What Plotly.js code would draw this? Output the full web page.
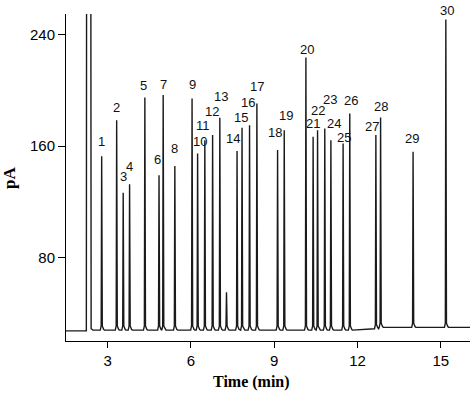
<!DOCTYPE html>
<html>
<head>
<meta charset="utf-8">
<script src="https://cdn.plot.ly/plotly-3.0.1.min.js"></script>
<style>html,body{margin:0;padding:0;background:#fff;}#chart{width:474px;height:395px;}</style>
</head>
<body>
<div id="chart"></div>
<script>
// Peak labels, retention times (min) and apex heights (pA)
var peakLabels = ["1","2","3","4","5","6","7","8","9","10","11","12","13","","14","15","16","17","18","19","20","21","22","23","24","25","26","27","28","29","30"];
var peakTimes  = [2.785,3.325,3.56,3.79,4.34,4.85,5.00,5.42,6.04,6.24,6.50,6.78,7.04,7.28,7.66,7.84,8.11,8.375,9.12,9.36,10.14,10.40,10.56,10.82,11.04,11.48,11.72,12.66,12.83,14.00,15.18];
var peakHeights= [152.8,178.7,126.5,132.7,195.0,139.2,196.7,145.7,194.3,154.8,164.3,168.0,180.4,55.0,156.6,173.2,175.1,190.7,157.2,171.5,223.7,166.7,171.5,172.7,164.3,162.0,183.5,168.0,180.6,156.0,251.0];
// Solvent peak (off scale)
var solventStart = 2.245, solventEnd = 2.39, solventHeight = 400;
// Baseline level (pA) from the given time onward
var baselineTimes  = [1.5, 2.4, 11.75, 12.75];
var baselineValues = [27.3, 27.8, 28.8, 29.8];

// label offsets in pixels (layout only)
var labelDx = [0,0,0,0,-1,-2,0,0,0,2,-2,-0.5,1,0,-4.5,-1,-1.5,0,-2.7,1.7,0.7,0,0,5,3.3,0.5,1,-4.3,0,-1,1.3];
var labelDy = [14.3,12.7,16,18,12.3,15.7,11,17.7,14.3,12,15,24,21.3,0,12,10,22.6,16.5,17.7,15,8,13.4,19.3,29,16.7,6,12.6,8.3,10.6,13.4,9.3];

function baseAt(t){
  var b = baselineValues[0];
  for (var i=0;i<baselineTimes.length;i++){ if (t>=baselineTimes[i]) b = baselineValues[i]; }
  return b;
}

var xs = [], ys = [];
xs.push(1.5); ys.push(baseAt(1.5));
// solvent peak
xs.push(solventStart-0.012); ys.push(baseAt(1.5));
xs.push(solventStart); ys.push(solventHeight);
xs.push(solventEnd); ys.push(solventHeight);
xs.push(solventEnd+0.015); ys.push(baseAt(solventEnd+0.02)+1);
xs.push(solventEnd+0.08); ys.push(baseAt(solventEnd+0.1));
for (var i=0;i<peakTimes.length;i++){
  var t = peakTimes[i], h = peakHeights[i], b = baseAt(t);
  xs.push(t-0.05); ys.push(b);
  xs.push(t-0.018); ys.push(b+3);
  xs.push(t); ys.push(h);
  xs.push(t+0.022); ys.push(b+3);
  xs.push(t+0.07); ys.push(b+0.6);
  xs.push(t+0.1); ys.push(b);
}
xs.push(16.05); ys.push(baseAt(16));

var trace = {
  x: xs, y: ys, type: 'scatter', mode: 'lines',
  line: {color: '#1a1a1a', width: 1.4},
  hoverinfo: 'skip'
};

var annotations = [];
for (var j=0;j<peakTimes.length;j++){
  if (!peakLabels[j]) continue;
  annotations.push({
    x: peakTimes[j], y: peakHeights[j], xref: 'x', yref: 'y',
    text: peakLabels[j], showarrow: false,
    xanchor: 'center', yanchor: 'middle',
    xshift: labelDx[j], yshift: labelDy[j],
    font: {family: 'Liberation Sans, Arial, sans-serif', size: 13, color: '#111'}
  });
}
annotations.push({
  xref: 'paper', yref: 'paper', x: (251-66)/404, y: -0.125,
  xanchor: 'center', yanchor: 'middle', showarrow: false,
  text: '<b>Time (min)</b>',
  font: {family: 'Liberation Serif, Times New Roman, serif', size: 16, color: '#000'}
});
annotations.push({
  xref: 'paper', yref: 'paper', x: -0.14, y: 0.5,
  xanchor: 'center', yanchor: 'middle', showarrow: false, textangle: -90,
  text: '<b>pA</b>',
  font: {family: 'Liberation Serif, Times New Roman, serif', size: 17, color: '#000'}
});

var layout = {
  width: 474, height: 395,
  margin: {l: 66, r: 4, t: 14, b: 54.3, pad: 0},
  paper_bgcolor: '#fff', plot_bgcolor: '#fff',
  showlegend: false,
  xaxis: {
    range: [1.5, 16.05], tickvals: [3,6,9,12,15], ticktext: ['3','6','9','12','15'],
    showgrid: false, zeroline: false, showline: true, linecolor: '#000', linewidth: 1,
    ticks: 'outside', ticklen: 6, tickwidth: 1, tickcolor: '#000',
    tickfont: {family: 'Liberation Sans, Arial, sans-serif', size: 15, color: '#000'},
    fixedrange: true
  },
  yaxis: {
    range: [20, 255], tickvals: [80,160,240], ticktext: ['80','160','240'],
    showgrid: false, zeroline: false, showline: true, linecolor: '#000', linewidth: 1,
    ticks: 'outside', ticklen: 7, tickwidth: 1, tickcolor: '#000',
    tickfont: {family: 'Liberation Sans, Arial, sans-serif', size: 15, color: '#000'},
    fixedrange: true
  },
  annotations: annotations
};

Plotly.newPlot('chart', [trace], layout, {displayModeBar: false, staticPlot: true});
</script>
</body>
</html>
